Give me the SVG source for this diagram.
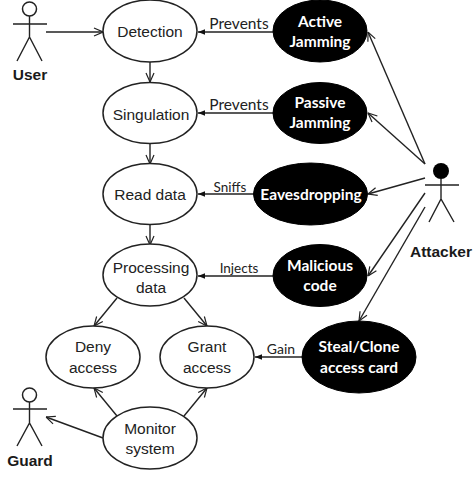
<svg xmlns="http://www.w3.org/2000/svg" width="474" height="486" viewBox="0 0 474 486">
<defs>
<marker id="open" viewBox="0 0 10 10" refX="10" refY="5" markerWidth="10" markerHeight="10" markerUnits="userSpaceOnUse" orient="auto"><path d="M1 1L10 5L1 9" fill="none" stroke="#222" stroke-width="1.2"/></marker>
<marker id="solid" viewBox="0 0 8 8" refX="8" refY="4" markerWidth="7" markerHeight="7" markerUnits="userSpaceOnUse" orient="auto"><path d="M0 .8L8 4L0 7.2Z" fill="#111"/></marker>
</defs>
<style>
.w{fill:#fff;stroke:#222;stroke-width:1.5}
.b{fill:#000;stroke:#000}
.l{fill:none;stroke:#222;stroke-width:1.4}
.o{marker-end:url(#open)}
.s{marker-end:url(#solid)}
text{text-anchor:middle}
.t{font:15.5px "Liberation Sans",Arial,sans-serif;fill:#222}
.c{font:bold 15.5px Lato,"Liberation Sans",sans-serif;fill:#fff}
.e{font:15.5px Lato,"Liberation Sans",sans-serif;fill:#222}
.a{font:bold 15.5px "Liberation Sans",Arial,sans-serif;fill:#1a1a1a}
</style>
<rect width="474" height="486" fill="#fff"/>
<g id="connectors">
<path class="l o" d="M46 32H103"/>
<path class="l o" d="M150 62V82"/>
<path class="l o" d="M150 143V164"/>
<path class="l o" d="M150 225V245"/>
<path class="l o" d="M117 298L94 326"/>
<path class="l o" d="M184 298L207 326"/>
<path class="l o" d="M117 416L94 388"/>
<path class="l o" d="M184 416L207 388"/>
<path class="l o" d="M103 438L46 417"/>
<path class="l s" d="M273 32H198"/>
<path class="l s" d="M273 113H198"/>
<path class="l s" d="M254 194H198"/>
<path class="l s" d="M273 276H198"/>
<path class="l s" d="M302 357H255"/>
<path class="l o" d="M425 164L368 32"/>
<path class="l o" d="M425 164L368 113"/>
<path class="l o" d="M425 178L368 194"/>
<path class="l o" d="M425 193L368 276"/>
<path class="l o" d="M425 207L359 321"/>
<g id="edge-labels">
<text class="e" x="239" y="29">Prevents</text>
<text class="e" x="239" y="110">Prevents</text>
<text class="e" x="230" y="192" style="font-size:13.5px">Sniffs</text>
<text class="e" x="239" y="273" style="font-size:13.5px">Injects</text>
<text class="e" x="281" y="354" style="font-size:14px">Gain</text>
</g>
</g>
<g id="user"><circle class="w" cx="29.5" cy="9" r="7"/><path class="l" d="M29.5 16V37M13 24H47M17 61L29.5 37L42 61"/><text class="a" x="30" y="80">User</text></g>
<g id="guard"><circle class="w" cx="29.5" cy="395" r="7"/><path class="l" d="M29.5 402V423M13 409H47M17 446L29.5 423L42 446"/><text class="a" x="30" y="466">Guard</text></g>
<g id="attacker"><circle fill="#000" cx="441" cy="171" r="8"/><path class="l" d="M441 179V199M425 185H459M429 222L441 199L454 222"/><text class="a" x="441" y="257">Attacker</text></g>
<g id="detection"><ellipse class="w" cx="150" cy="31" rx="47" ry="31"/><text class="t" x="150" y="37">Detection</text></g>
<g id="singulation"><ellipse class="w" cx="150" cy="113" rx="47" ry="30.5"/><text class="t" x="151" y="120">Singulation</text></g>
<g id="read-data"><ellipse class="w" cx="150" cy="194" rx="47" ry="30.5"/><text class="t" x="150" y="200">Read data</text></g>
<g id="processing-data"><ellipse class="w" cx="150" cy="275" rx="47" ry="31"/><text class="t" x="151" y="273">Processing</text><text class="t" x="151" y="293">data</text></g>
<g id="deny-access"><ellipse class="w" cx="93" cy="357" rx="47" ry="31"/><text class="t" x="93" y="352">Deny</text><text class="t" x="93" y="373">access</text></g>
<g id="grant-access"><ellipse class="w" cx="207" cy="357" rx="47" ry="31"/><text class="t" x="207" y="352">Grant</text><text class="t" x="207" y="373">access</text></g>
<g id="monitor-system"><ellipse class="w" cx="150" cy="438" rx="47" ry="31"/><text class="t" x="150" y="434">Monitor</text><text class="t" x="150" y="454">system</text></g>
<g id="active-jamming"><ellipse class="b" cx="320" cy="31" rx="47" ry="31"/><text class="c" x="320" y="27">Active</text><text class="c" x="320" y="47">Jamming</text></g>
<g id="passive-jamming"><ellipse class="b" cx="320" cy="113" rx="47" ry="30.5"/><text class="c" x="320" y="108">Passive</text><text class="c" x="320" y="128">Jamming</text></g>
<g id="eavesdropping"><ellipse class="b" cx="310.5" cy="194" rx="57" ry="31"/><text class="c" x="311" y="200">Eavesdropping</text></g>
<g id="malicious-code"><ellipse class="b" cx="320" cy="275.5" rx="47" ry="31"/><text class="c" x="320" y="271">Malicious</text><text class="c" x="320" y="291">code</text></g>
<g id="steal-clone"><ellipse class="b" cx="359" cy="357" rx="57" ry="36"/><text class="c" x="359" y="352">Steal/Clone</text><text class="c" x="359" y="373">access card</text></g>
</svg>
